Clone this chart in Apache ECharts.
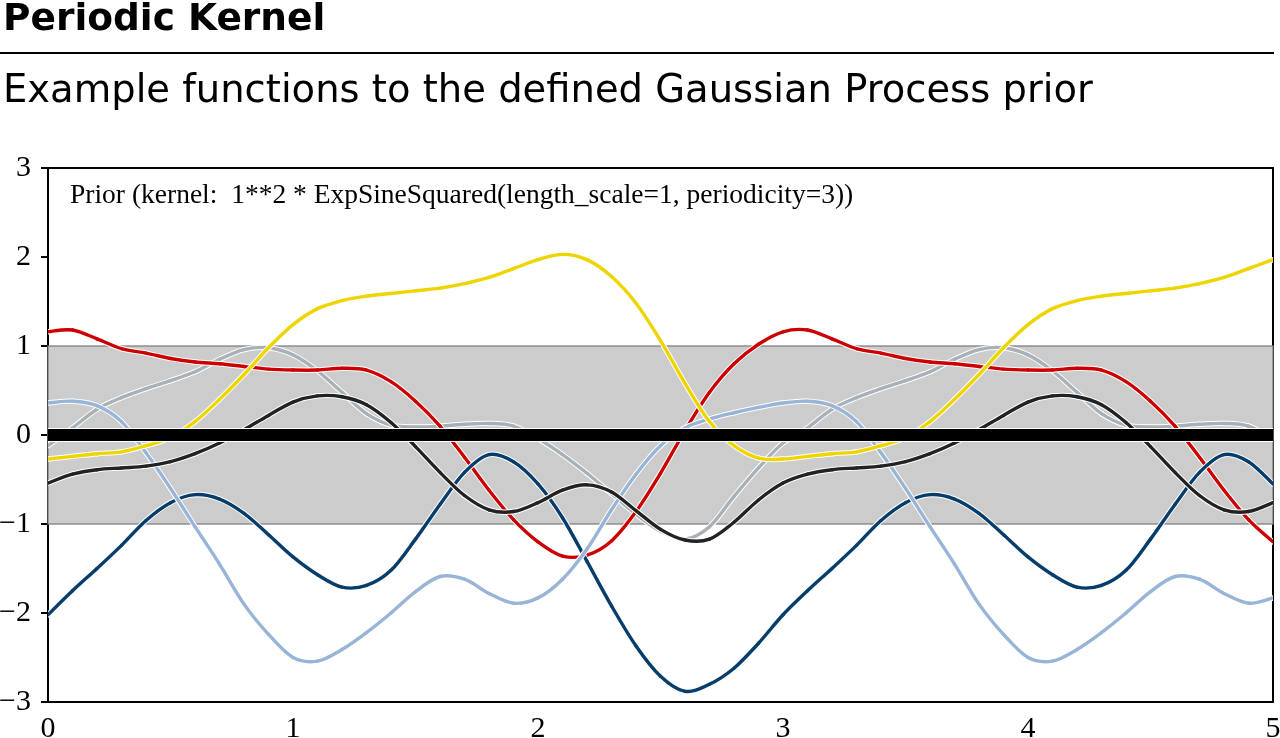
<!DOCTYPE html>
<html>
<head>
<meta charset="utf-8">
<title>Periodic Kernel</title>
<script src="https://cdn.jsdelivr.net/npm/echarts@6/dist/echarts.min.js"></script>
<style>
  html, body { margin: 0; padding: 0; background: #fff; }
  #chart { width: 1280px; height: 738px; }
</style>
</head>
<body>
<div id="chart"></div>
<script>
// sample grid 0 .. 5, step 0.1
var xs = [];
for (var i = 0; i <= 50; i++) xs.push(+(i / 10).toFixed(1));

// values (one per x in xs)
var redSample = [1.16, 1.18, 1.08, 0.97, 0.92, 0.86, 0.82, 0.80, 0.77, 0.74, 0.73, 0.73, 0.75, 0.73, 0.60, 0.38, 0.10, -0.25, -0.62, -0.95,
  -1.20, -1.36, -1.35, -1.19, -0.86, -0.43, 0.05, 0.48, 0.80, 1.02, 1.16, 1.18, 1.08, 0.97, 0.92, 0.86, 0.82, 0.80, 0.77, 0.74,
  0.73, 0.73, 0.75, 0.73, 0.60, 0.38, 0.10, -0.25, -0.62, -0.95, -1.20];
var yellowSample = [-0.27, -0.24, -0.21, -0.19, -0.12, -0.03, 0.15, 0.40, 0.68, 0.98, 1.24, 1.42, 1.51, 1.56, 1.59, 1.62, 1.65, 1.70, 1.77, 1.87,
  1.97, 2.03, 1.97, 1.78, 1.48, 1.06, 0.58, 0.15, -0.12, -0.26, -0.27, -0.24, -0.21, -0.19, -0.12, -0.03, 0.15, 0.40, 0.68, 0.98,
  1.24, 1.42, 1.51, 1.56, 1.59, 1.62, 1.65, 1.70, 1.77, 1.87, 1.97];
var blackSample = [-0.54, -0.44, -0.39, -0.37, -0.35, -0.30, -0.21, -0.09, 0.06, 0.22, 0.37, 0.44, 0.43, 0.34, 0.14, -0.13, -0.42, -0.68, -0.84, -0.86,
  -0.76, -0.62, -0.56, -0.64, -0.85, -1.06, -1.18, -1.17, -0.98, -0.73, -0.54, -0.44, -0.39, -0.37, -0.35, -0.30, -0.21, -0.09, 0.06, 0.22,
  0.37, 0.44, 0.43, 0.34, 0.14, -0.13, -0.42, -0.68, -0.84, -0.86, -0.76];
var navySample = [-2.02, -1.75, -1.50, -1.24, -0.96, -0.76, -0.67, -0.72, -0.88, -1.12, -1.37, -1.57, -1.71, -1.69, -1.52, -1.17, -0.78, -0.42, -0.22, -0.30,
  -0.55, -0.93, -1.42, -1.92, -2.37, -2.71, -2.88, -2.80, -2.62, -2.34, -2.02, -1.75, -1.50, -1.24, -0.96, -0.76, -0.67, -0.72, -0.88, -1.12,
  -1.37, -1.57, -1.71, -1.69, -1.52, -1.17, -0.78, -0.42, -0.22, -0.30, -0.55];
var skySample = [0.36, 0.38, 0.33, 0.15, -0.20, -0.60, -1.03, -1.45, -1.90, -2.24, -2.50, -2.54, -2.41, -2.22, -2.00, -1.76, -1.59, -1.62, -1.78, -1.89,
  -1.83, -1.62, -1.28, -0.84, -0.44, -0.12, 0.08, 0.18, 0.25, 0.31, 0.36, 0.38, 0.33, 0.15, -0.20, -0.60, -1.03, -1.45, -1.90, -2.24,
  -2.50, -2.54, -2.41, -2.22, -2.00, -1.76, -1.59, -1.62, -1.78, -1.89, -1.83];
var graySample = [-0.12, 0.08, 0.29, 0.42, 0.52, 0.61, 0.71, 0.85, 0.96, 0.98, 0.90, 0.72, 0.48, 0.24, 0.11, 0.09, 0.10, 0.12, 0.13, 0.10,
  -0.04, -0.22, -0.43, -0.66, -0.89, -1.08, -1.17, -1.03, -0.69, -0.37, -0.09, 0.08, 0.29, 0.42, 0.52, 0.61, 0.71, 0.85, 0.96, 0.98,
  0.90, 0.72, 0.48, 0.24, 0.11, 0.09, 0.10, 0.12, 0.13, 0.10, -0.04];
var priorMean = [];
for (var k = 0; k < xs.length; k++) priorMean.push(0);
var stdLow = -1, stdHigh = 1;

var xTicks = [0, 1, 2, 3, 4, 5];
var yTicks = [-3, -2, -1, 0, 1, 2, 3];

var samples = [
  { name: 'gray', data: graySample, color: '#a8b0b8' },
  { name: 'red', data: redSample, color: '#cc0000' },
  { name: 'navy', data: navySample, color: '#063d6b' },
  { name: 'sky', data: skySample, color: '#98b4d6' },
  { name: 'yellow', data: yellowSample, color: '#eed500' },
  { name: 'black', data: blackSample, color: '#222222' }
];

function pairs(vals) {
  return xs.map(function (x, i) { return [x, vals[i]]; });
}

// catmull-rom segment from point i to i+1, placed through the axes with api.coord
function curveRenderer(vals, color, width) {
  return function (params, api) {
    var i = params.dataIndex;
    var n = xs.length;
    if (i >= n - 1) return null;
    function p(j) {
      j = Math.max(0, Math.min(n - 1, j));
      return api.coord([xs[j], vals[j]]);
    }
    var p0 = p(i - 1), p1 = p(i), p2 = p(i + 1), p3 = p(i + 2);
    return {
      type: 'bezierCurve',
      shape: {
        x1: p1[0], y1: p1[1], x2: p2[0], y2: p2[1],
        cpx1: p1[0] + (p2[0] - p0[0]) / 6, cpy1: p1[1] + (p2[1] - p0[1]) / 6,
        cpx2: p2[0] - (p3[0] - p1[0]) / 6, cpy2: p2[1] - (p3[1] - p1[1]) / 6
      },
      style: { stroke: color, lineWidth: width, fill: null, lineCap: 'round' },
      silent: true
    };
  };
}

var serif = '"Liberation Serif", "Times New Roman", serif';
var sans = '"DejaVu Sans", Verdana, sans-serif';

var series = [];
// the +-1 std band
series.push({
  name: 'band',
  type: 'line',
  data: pairs(priorMean),
  symbol: 'none',
  lineStyle: { width: 0, opacity: 0 },
  silent: true,
  z: 1,
  markArea: {
    silent: true,
    itemStyle: { color: '#cccccc', borderColor: 'rgba(120,120,120,0.6)', borderWidth: 2 },
    data: [[{ yAxis: stdLow }, { yAxis: stdHigh }]]
  }
});
samples.forEach(function (s, idx) {
  // thin white halo under each curve, then the curve
  series.push({
    name: s.name + '-halo',
    type: 'custom',
    data: pairs(s.data),
    encode: { x: 0, y: 1 },
    renderItem: curveRenderer(s.data, '#ffffff', 5.4),
    clip: true,
    z: 2 + idx * 2
  });
  series.push({
    name: s.name,
    type: 'custom',
    data: pairs(s.data),
    encode: { x: 0, y: 1 },
    renderItem: curveRenderer(s.data, s.color, 3.4),
    clip: true,
    z: 3 + idx * 2
  });
});
// the prior mean
series.push({
  name: 'mean-halo',
  type: 'line',
  data: pairs(priorMean),
  symbol: 'none',
  silent: true,
  lineStyle: { color: '#ffffff', width: 14 },
  z: 30
});
series.push({
  name: 'mean',
  type: 'line',
  data: pairs(priorMean),
  symbol: 'none',
  lineStyle: { color: '#000000', width: 12 },
  z: 31
});

var chart = echarts.init(document.getElementById('chart'));
var option = {
  animation: false,
  backgroundColor: '#ffffff',
  title: [
    {
      text: 'Periodic Kernel',
      left: -2,
      top: -4,
      textStyle: { fontFamily: sans, fontWeight: 'bold', fontSize: 37.5, color: '#000' }
    },
    {
      text: 'Example functions to the defined Gaussian Process prior',
      left: -2,
      top: 67,
      textStyle: { fontFamily: sans, fontWeight: 'normal', fontSize: 38.5, color: '#000' }
    }
  ],
  graphic: [
    {
      type: 'line',
      shape: { x1: 0, y1: 53, x2: 1274, y2: 53 },
      style: { stroke: '#000', lineWidth: 2 }
    },
    {
      type: 'text',
      left: 70,
      top: 182,
      z: 100,
      style: {
        text: 'Prior (kernel:  1**2 * ExpSineSquared(length_scale=1, periodicity=3))',
        font: '27.5px ' + serif,
        fill: '#000'
      }
    }
  ],
  grid: {
    left: 48, right: 7, top: 168, bottom: 36,
    show: true, borderColor: '#000', borderWidth: 2, backgroundColor: 'transparent',
    containLabel: false,
    outerBoundsMode: 'none'
  },
  xAxis: {
    type: 'value',
    min: xTicks[0], max: xTicks[xTicks.length - 1], interval: 1,
    axisLine: { show: true, lineStyle: { color: '#000', width: 2 } },
    axisTick: { show: true, length: 7, lineStyle: { color: '#000', width: 2 } },
    axisLabel: { fontFamily: serif, fontSize: 30, color: '#000', margin: 12 },
    splitLine: { show: false }
  },
  yAxis: {
    type: 'value',
    min: yTicks[0], max: yTicks[yTicks.length - 1], interval: 1,
    axisLine: { show: true, lineStyle: { color: '#000', width: 2 } },
    axisTick: { show: true, length: 7, lineStyle: { color: '#000', width: 2 } },
    axisLabel: {
      fontFamily: serif, fontSize: 30, color: '#000', margin: 17,
      formatter: function (v) { return v < 0 ? '\u2212' + Math.abs(v) : String(v); }
    },
    splitLine: { show: false }
  },
  series: series
};
chart.setOption(option);
</script>
</body>
</html>
